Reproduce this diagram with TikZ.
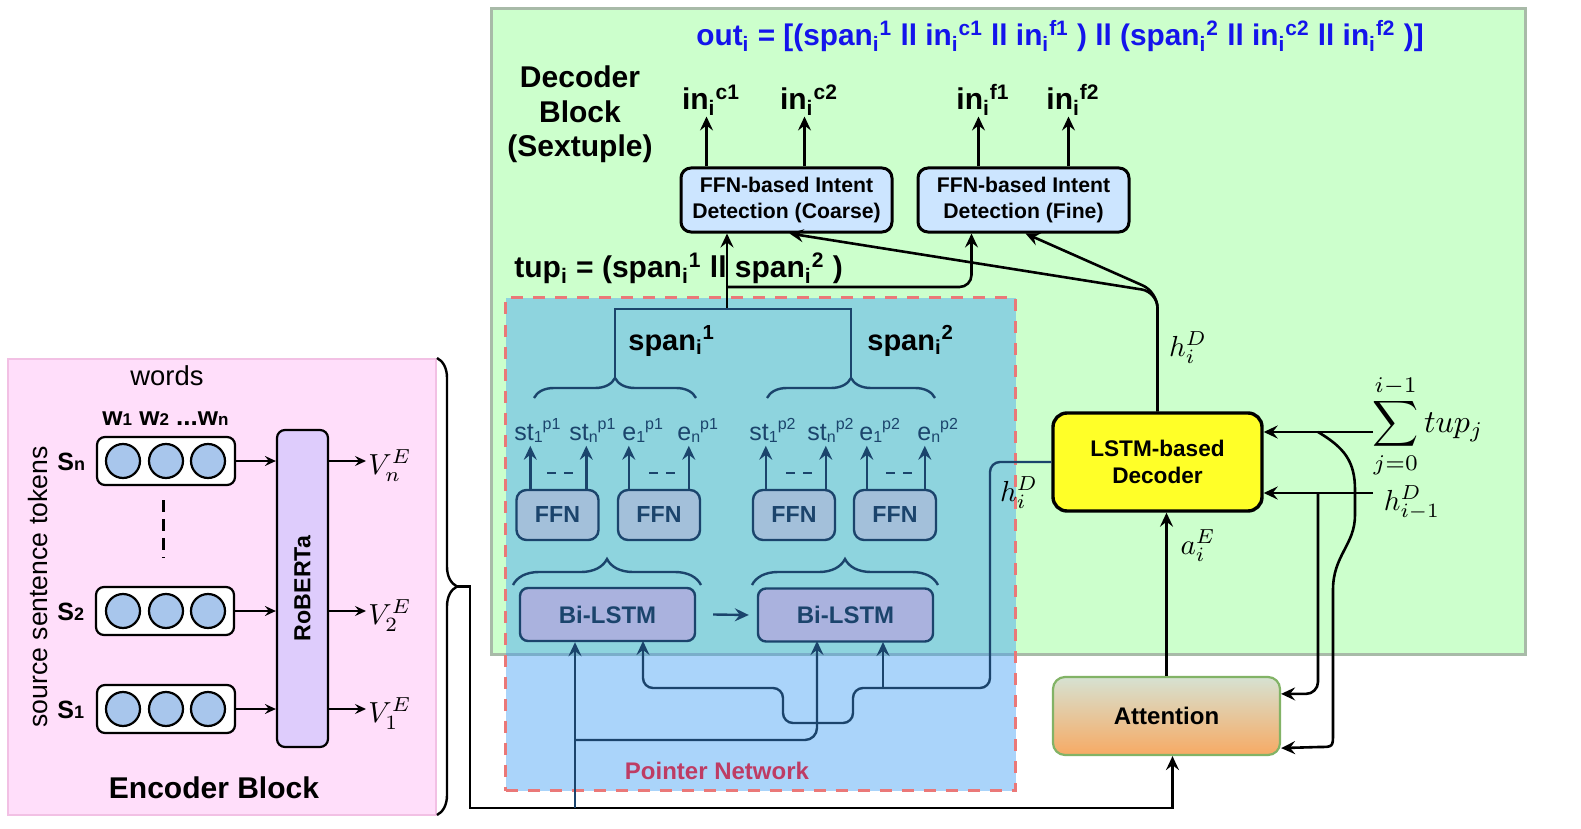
\documentclass[tikz,border=0pt]{standalone}
\usepackage{graphicx}
\usepackage[no-math]{fontspec}
\setmainfont{Liberation Sans}
\usetikzlibrary{arrows.meta,decorations.pathreplacing,calc}
\definecolor{gfill}{RGB}{204,255,204}
\definecolor{gline}{RGB}{168,186,168}
\definecolor{pfill}{RGB}{255,222,250}
\definecolor{pline}{RGB}{242,192,228}
\definecolor{pnblue}{RGB}{67,160,244}
\definecolor{pnred}{RGB}{234,120,120}
\definecolor{dblue}{RGB}{27,68,108}
\definecolor{ffnfill}{RGB}{163,192,218}
\definecolor{lstmfill}{RGB}{170,178,222}
\definecolor{pntext}{RGB}{190,60,100}
\definecolor{fblue}{RGB}{20,20,235}
\definecolor{intfill}{RGB}{204,229,255}
\definecolor{decfill}{RGB}{255,255,40}
\definecolor{atttop}{RGB}{214,226,210}
\definecolor{attbot}{RGB}{247,170,100}
\definecolor{attline}{RGB}{130,179,102}
\definecolor{robfill}{RGB}{222,204,252}
\definecolor{circfill}{RGB}{168,198,236}
\newcommand{\fsz}[2]{\fontsize{#1}{#2}\selectfont}
\newcommand{\lbl}[3]{#1{\fsz{8}{9}\raisebox{-1.2pt}{#2}\raisebox{5.5pt}{#3}}}
\newcommand{\mathbig}[1]{\scalebox{1.45}{#1}}
\begin{document}
\begin{tikzpicture}[x=0.5pt,y=-0.5pt,
  blk/.style={line width=1.3pt,draw=black},
  barr/.style={blk,-{Stealth[length=7pt,width=6.5pt,inset=2.5pt]}},
  pln/.style={line width=1.2pt,draw=dblue},
  parr/.style={pln,-{Stealth[length=7pt,width=6.5pt,inset=2.5pt]}},
  earr/.style={line width=1pt,draw=black,-{Stealth[length=5.5pt,width=5pt,inset=2pt]}},
  intbox/.style={draw=black,line width=1.5pt,fill=intfill,rounded corners=5pt,minimum width=105.5pt,minimum height=32pt,inner sep=0pt,align=center,font=\bfseries\fsz{10.6}{13}},
  ffnbox/.style={draw=dblue,line width=1.2pt,fill=ffnfill,rounded corners=5pt,minimum width=41pt,minimum height=25pt,inner sep=0pt,text=dblue,font=\bfseries\fsz{11.6}{13}},
  lstmbox/.style={draw=dblue,line width=1.2pt,fill=lstmfill,rounded corners=4pt,minimum width=87.5pt,minimum height=26.5pt,inner sep=0pt,text=dblue,font=\bfseries\fsz{12}{14}},
  pbrace/.style={pln,decorate,decoration={brace,amplitude=10pt}},
  pbraceb/.style={pln,decorate,decoration={brace,amplitude=13pt}},
  ptxt/.style={anchor=base west,inner sep=0pt,text=dblue,font=\fsz{12.5}{14}},
  rowbox/.style={draw=black,line width=1.1pt,fill=white,rounded corners=4pt,minimum width=69pt,minimum height=24pt,inner sep=0pt},
  circ/.style={circle,draw=black,line width=1.1pt,fill=circfill,minimum size=17pt,inner sep=0pt},
  mlbl/.style={inner sep=0pt},
  btxt/.style={inner sep=0pt,font=\bfseries\fsz{15}{18}},
]
\useasboundingbox (0,0) rectangle (1581,829);
\fill[white] (0,0) rectangle (1581,829);

% ---------- containers ----------
\node[draw=gline,fill=gfill,line width=1.5pt,minimum width=517pt,minimum height=323pt,anchor=north west,inner sep=0pt] (decblock) at (490,7) {};
\node[draw=pline,fill=pfill,line width=1pt,minimum width=214pt,minimum height=228pt,anchor=north west,inner sep=0pt] (encblock) at (7,358) {};
\node[fill=pnblue,fill opacity=0.45,draw=pnred,line width=1.5pt,dash pattern=on 6pt off 5pt,minimum width=255pt,minimum height=246.5pt,anchor=north west,inner sep=0pt] (ptr) at (504,296) {};

% ---------- decoder block texts ----------
\node[anchor=base west,inner sep=0pt,text=fblue,font=\bfseries\fsz{14.9}{17}] (outf) at (696,46) {out\textsubscript{i} = [(span\textsubscript{i}\textsuperscript{1} ll in\textsubscript{i}\textsuperscript{c1} ll in\textsubscript{i}\textsuperscript{f1} ) ll (span\textsubscript{i}\textsuperscript{2} ll in\textsubscript{i}\textsuperscript{c2} ll in\textsubscript{i}\textsuperscript{f2} )]};
\node[btxt,anchor=base] (t1) at (580,88) {Decoder};
\node[btxt,anchor=base] (t2) at (580,123) {Block};
\node[btxt,anchor=base] (t3) at (580,157) {(Sextuple)};

\node[intbox] (coarse) at (786.5,200) {FFN-based Intent\\Detection (Coarse)};
\node[intbox] (fine) at (1023.5,200) {FFN-based Intent\\Detection (Fine)};

\node[btxt,anchor=base] (ic1) at (711,110) {in\textsubscript{i}\textsuperscript{c1}};
\node[btxt,anchor=base] (ic2) at (809,110) {in\textsubscript{i}\textsuperscript{c2}};
\node[btxt,anchor=base] (if1) at (983,110) {in\textsubscript{i}\textsuperscript{f1}};
\node[btxt,anchor=base] (if2) at (1073,110) {in\textsubscript{i}\textsuperscript{f2}};
\draw[barr] ($(coarse.north west)+(27,0)$) -- ($(coarse.north west)+(27,-50)$);
\draw[barr] ($(coarse.north west)+(125,0)$) -- ($(coarse.north west)+(125,-50)$);
\draw[barr] ($(fine.north west)+(62,0)$) -- ($(fine.north west)+(62,-50)$);
\draw[barr] ($(fine.north west)+(152,0)$) -- ($(fine.north west)+(152,-50)$);

\node[btxt,anchor=base west] (tup) at (514,278) {tup\textsubscript{i} = (span\textsubscript{i}\textsuperscript{1} ll span\textsubscript{i}\textsuperscript{2} )};

% ---------- LSTM decoder and attention ----------
\node[draw=black,line width=1.7pt,fill=decfill,rounded corners=7pt,minimum width=104.5pt,minimum height=49pt,inner sep=0pt,align=center,font=\bfseries\fsz{11.3}{13.5}] (dec) at (1157.5,462) {LSTM-based\\Decoder};
\node[draw=attline,line width=1.1pt,top color=atttop,bottom color=attbot,rounded corners=6pt,minimum width=113.5pt,minimum height=39pt,inner sep=0pt,font=\bfseries\fsz{12}{14}] (att) at (1166.5,716) {Attention};

\coordinate (hup) at (1157.5,292);
\draw[barr,rounded corners=8pt] (dec.north) -- (hup) -- ($(coarse.south west)+(110,0)$);
\draw[barr,rounded corners=8pt] (dec.north) -- (hup) -- ($(fine.south west)+(109,0)$);
\node[mlbl] (hdtop) at (1188,348) {\mathbig{$h_i^D$}};

\draw[barr] (att.north) -- (att.north |- dec.south);
\node[mlbl] (aie) at (1198,546) {\mathbig{$a_i^E$}};

\node[inner sep=0pt] (sum) at (1428,426) {\scalebox{1.6}{$\displaystyle\sum_{j=0}^{i-1} tup_j$}};
\node[mlbl] (hprev) at (1412,503) {\mathbig{$h_{i-1}^D$}};
\coordinate (sumin) at (1373,432);
\coordinate (hpin) at (1373,493);
\coordinate (brA) at (1318,432);
\coordinate (brB) at (1318,493);
\draw[barr] (sumin) -- (sumin -| dec.east);
\draw[barr] (hpin) -- (hpin -| dec.east);
\draw[barr,rounded corners=6pt] (brB) |- ($(att.north east)+(0,18)$);
\draw[barr] (brA) .. controls (1345,448) and (1355,462) .. (1355,490) -- (1355,515) .. controls (1355,545) and (1333,555) .. (1333,590) -- (1333,733) .. controls (1333,747) .. (1319,747) -- ($(att.south east)+(0,-8)$);

% ---------- pointer network ----------
\draw[barr] (727,309) -- (coarse.south -| 727,309);
\draw[barr,rounded corners=6pt] (727,287) -| ($(fine.south west)+(55,0)$);
\draw[pln] (615,378) -- (615,309) -- (851,309) -- (851,378);
\node[inner sep=0pt,anchor=base west,font=\bfseries\fsz{14.5}{17}] (sp1) at (628,350) {span\textsubscript{i}\textsuperscript{1}};
\node[inner sep=0pt,anchor=base west,font=\bfseries\fsz{14.5}{17}] (sp2) at (867,350) {span\textsubscript{i}\textsuperscript{2}};
\draw[pbrace] (534,398) -- (696,398);
\draw[pbrace] (767,398) -- (935,398);

\node[ptxt] (l1) at (514,440) {\lbl{st}{1}{p1}};
\node[ptxt] (l2) at (569,440) {\lbl{st}{n}{p1}};
\node[ptxt] (l3) at (622,440) {\lbl{e}{1}{p1}};
\node[ptxt] (l4) at (677,440) {\lbl{e}{n}{p1}};
\node[ptxt] (l5) at (749,440) {\lbl{st}{1}{p2}};
\node[ptxt] (l6) at (807,440) {\lbl{st}{n}{p2}};
\node[ptxt] (l7) at (859,440) {\lbl{e}{1}{p2}};
\node[ptxt] (l8) at (917,440) {\lbl{e}{n}{p2}};

\node[ffnbox] (f1) at (557.5,515) {FFN};
\node[ffnbox] (f2) at (659,515) {FFN};
\node[ffnbox] (f3) at (794,515) {FFN};
\node[ffnbox] (f4) at (895,515) {FFN};
\foreach \f/\a/\b in {f1/15/71,f2/12/72,f3/14/74,f4/14/72}{
  \draw[parr] ($(\f.north west)+(\a,0)$) -- ($(\f.north west)+(\a,-43)$);
  \draw[parr] ($(\f.north west)+(\b,0)$) -- ($(\f.north west)+(\b,-43)$);
}
\draw[pln,dash pattern=on 4.5pt off 4pt] (547,473) -- (576,473);
\draw[pln,dash pattern=on 4.5pt off 4pt] (649,473) -- (678,473);
\draw[pln,dash pattern=on 4.5pt off 4pt] (786,473) -- (815,473);
\draw[pln,dash pattern=on 4.5pt off 4pt] (886,473) -- (915,473);

\draw[pbraceb] (513,585) -- (701,585);
\draw[pbraceb] (752,585) -- (938,585);
\node[lstmbox] (bl1) at (607.5,614.5) {Bi-LSTM};
\node[lstmbox] (bl2) at (845.5,615) {Bi-LSTM};
\draw[parr] ($(bl1.east)+(17,0)$) -- ($(bl2.west)+(-8,0)$);

\node[inner sep=0pt,text=pntext,font=\bfseries\fsz{12}{14}] (pnlbl) at (717,771) {Pointer Network};

% h_i^D into pointer network
\draw[parr,rounded corners=5pt] (dec.west) -- (990,462) -- (990,688) -- (853,688) -- (853,723) -- (783,723) -- (783,688) -- (643,688) -- (643,641);
\draw[parr] (883,688) -- (883,642);
\node[mlbl] (hdleft) at (1019,493) {\mathbig{$h_i^D$}};

% ---------- encoder block ----------
\node[inner sep=0pt,anchor=base,font=\fsz{13.7}{16}] (words) at (167,385) {words};
\node[inner sep=0pt,anchor=base west,font=\bfseries\fsz{13}{15}] (wlist) at (102,425) {w{\fsz{8.5}{9}1} w{\fsz{8.5}{9}2} ...w{\fsz{8.5}{9}n}};
\node[inner sep=0pt,rotate=90,font=\fsz{13.3}{15}] (sst) at (38,587) {source sentence tokens};

\node[rowbox] (rown) at (166,461) {};
\node[rowbox] (row2) at (165,611) {};
\node[rowbox] (row1) at (166,709) {};
\foreach \r/\y in {n/461,b/611,a/709}{
  \node[circ] (c1\r) at (123,\y) {};
  \node[circ] (c2\r) at (166,\y) {};
  \node[circ] (c3\r) at (208,\y) {};
}
\node[inner sep=0pt,anchor=base west,font=\bfseries\fsz{12.5}{14}] (sn) at (57,470) {S{\fsz{9}{10}n}};
\node[inner sep=0pt,anchor=base west,font=\bfseries\fsz{12.5}{14}] (s2) at (57,620) {S{\fsz{9}{10}2}};
\node[inner sep=0pt,anchor=base west,font=\bfseries\fsz{12.5}{14}] (s1) at (57,718) {S{\fsz{9}{10}1}};
\draw[black,line width=1.5pt,dash pattern=on 6pt off 3.5pt] (163,500) -- (163,558);

\node[draw=black,line width=1.1pt,fill=robfill,rounded corners=4pt,minimum width=25.5pt,minimum height=158.5pt,inner sep=0pt] (rob) at (302.5,588.5) {};
\node[rotate=90,inner sep=0pt,font=\bfseries\fsz{11.6}{13}] (robt) at (rob.center) {RoBERTa};

\draw[earr] (rown.east) -- (rown.east -| rob.west);
\draw[earr] (row2.east) -- (row2.east -| rob.west);
\draw[earr] (row1.east) -- (row1.east -| rob.west);

\node[anchor=base west,inner sep=0pt] (vn) at (368,474) {\mathbig{$V_n^E$}};
\node[anchor=base west,inner sep=0pt] (v2) at (368,624) {\mathbig{$V_2^E$}};
\node[anchor=base west,inner sep=0pt] (v1) at (368,722) {\mathbig{$V_1^E$}};
\draw[earr] (rob.east |- rown.east) -- ($(vn.west |- rown.east)+(-2,0)$);
\draw[earr] (rob.east |- row2.east) -- ($(v2.west |- row2.east)+(-2,0)$);
\draw[earr] (rob.east |- row1.east) -- ($(v1.west |- row1.east)+(-2,0)$);

\node[inner sep=0pt,anchor=base,font=\bfseries\fsz{15}{18}] (encl) at (214,798) {Encoder Block};

% encoder brace and bus
\draw[black,line width=1.2pt,decorate,decoration={brace,amplitude=10pt}] (437,358) -- (437,815);
\coordinate (btip) at (457,586.5);
\coordinate (busL) at (470,808);
\coordinate (busB) at (575,808);
\draw[blk] (btip) -- (busL |- btip) -- (busL) -- (busB);
\draw[barr] (busB) -| ($(att.south)+(6,0)$);
\draw[parr] (busB) -- (bl1.south -| busB);
\draw[parr,rounded corners=6pt] (575,740) -| (817,641);
\end{tikzpicture}
\end{document}
